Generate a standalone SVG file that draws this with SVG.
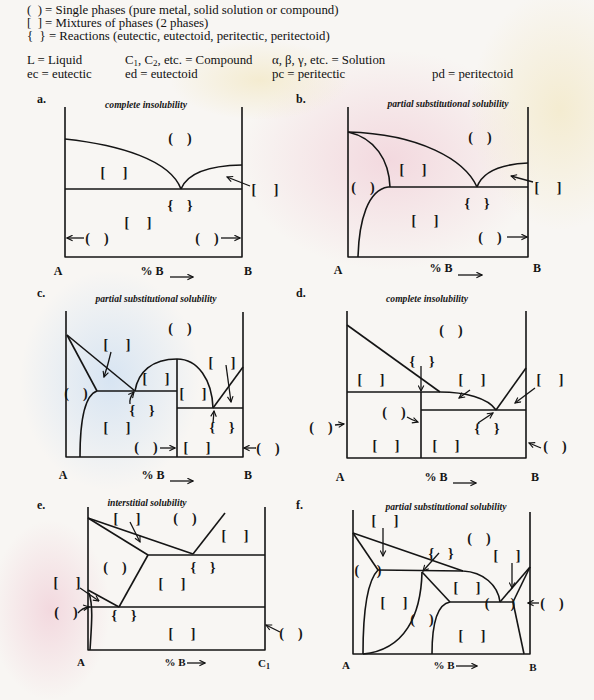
<svg xmlns="http://www.w3.org/2000/svg" width="594" height="700" viewBox="0 0 594 700" xml:space="preserve">
<defs>
<radialGradient id="gPink" cx="0.5" cy="0.5" r="0.5"><stop offset="0" stop-color="#f1cfd8" stop-opacity="0.75"/><stop offset="1" stop-color="#f1cfd8" stop-opacity="0"/></radialGradient>
<radialGradient id="gBlue" cx="0.5" cy="0.5" r="0.5"><stop offset="0" stop-color="#cfe0f2" stop-opacity="0.8"/><stop offset="1" stop-color="#cfe0f2" stop-opacity="0"/></radialGradient>
<radialGradient id="gYel" cx="0.5" cy="0.5" r="0.5"><stop offset="0" stop-color="#f3e9c8" stop-opacity="0.8"/><stop offset="1" stop-color="#f3e9c8" stop-opacity="0"/></radialGradient>
<marker id="ah" viewBox="0 0 10 10" refX="9" refY="5" markerWidth="7" markerHeight="7" markerUnits="userSpaceOnUse" orient="auto"><path d="M1,1 L9,5 L1,9" fill="none" stroke="#111" stroke-width="1.6"/></marker>
</defs>
<style>
.ln{fill:none;stroke:#151515;stroke-width:1.6;stroke-linejoin:round}
.ar{fill:none;stroke:#151515;stroke-width:1.3;marker-end:url(#ah)}
.hd{font-family:"Liberation Serif","Times New Roman",serif;font-size:12.8px;fill:#111;white-space:pre}
.lb{font-family:"Liberation Serif","Times New Roman",serif;font-size:14px;font-weight:bold;fill:#151515;text-anchor:middle;white-space:pre}
.ax{font-family:"Liberation Serif","Times New Roman",serif;font-size:12px;font-weight:bold;fill:#151515;text-anchor:middle;white-space:pre}
.pl{font-family:"Liberation Serif","Times New Roman",serif;font-size:12px;font-weight:bold;fill:#151515}
.tt{font-family:"Liberation Serif","Times New Roman",serif;font-size:9.6px;font-weight:bold;font-style:italic;fill:#151515;text-anchor:middle}
</style>
<rect width="594" height="700" fill="#f8f6f3"/>
<g id="background-tint">
<ellipse cx="390" cy="160" rx="150" ry="110" fill="url(#gPink)"/>
<ellipse cx="110" cy="380" rx="90" ry="110" fill="url(#gBlue)"/>
<ellipse cx="560" cy="110" rx="90" ry="120" fill="url(#gYel)"/>
<ellipse cx="50" cy="610" rx="60" ry="90" fill="url(#gPink)"/>
<ellipse cx="260" cy="80" rx="90" ry="40" fill="url(#gYel)"/>
</g>
<g id="legend">
<text class="hd" x="27" y="14">(  ) = Single phases (pure metal, solid solution or compound)</text>
<text class="hd" x="27" y="27">[  ] = Mixtures of phases (2 phases)</text>
<text class="hd" x="27" y="40">{  } = Reactions (eutectic, eutectoid, peritectic, peritectoid)</text>
<text class="hd" x="27" y="64">L = Liquid</text>
<text class="hd" x="125" y="64">C<tspan font-size="9" dy="2">1</tspan><tspan dy="-2">, C</tspan><tspan font-size="9" dy="2">2</tspan><tspan dy="-2">, etc. = Compound</tspan></text>
<text class="hd" x="272" y="64">α, β, γ, etc. = Solution</text>
<text class="hd" x="27" y="78">ec = eutectic</text>
<text class="hd" x="125" y="78">ed = eutectoid</text>
<text class="hd" x="272" y="78">pc = peritectic</text>
<text class="hd" x="432" y="78">pd = peritectoid</text>
</g>

<g id="panel-a">
<text class="pl" x="37" y="103">a.</text>
<text class="tt" x="146" y="108">complete insolubility</text>
<g class="boundaries">
<path class="ln" d="M65,107 V257 H242 V107"/>
<path class="ln" d="M65,139 C120,145 170,160 181,189"/>
<path class="ln" d="M181,189 Q190,166 242,165"/>
<path class="ln" d="M65,189 H242"/>
</g>
<g class="labels">
<text class="lb" x="180" y="143">(    )</text>
<text class="lb" x="114" y="177">[     ]</text>
<text class="lb" x="265" y="194">[     ]</text>
<text class="lb" x="180" y="210">{    }</text>
<text class="lb" x="138" y="227">[     ]</text>
<text class="lb" x="97" y="243">(    )</text>
<text class="lb" x="207" y="243">(    )</text>
<text class="ax" x="58" y="275">A</text>
<text class="ax" x="152" y="275">% B</text>
<text class="ax" x="248" y="275">B</text>
</g>
<g class="connectors">
<path class="ar" d="M250,186 L227,177"/>
<path class="ar" d="M84,238 L67,238"/>
<path class="ar" d="M221,238 L240,238"/>
<path class="ar" d="M170,277 L193,277"/>
</g>
</g>

<g id="panel-b">
<text class="pl" x="296" y="103">b.</text>
<text class="tt" x="448" y="107">partial substitutional solubility</text>
<g class="boundaries">
<path class="ln" d="M348,107 V257 H528 V107"/>
<path class="ln" d="M348,132 C420,134 465,160 477,187"/>
<path class="ln" d="M348,132 C375,138 389,160 390,187"/>
<path class="ln" d="M388,187 H528"/>
<path class="ln" d="M388,187 C368,190 359,220 358,257"/>
<path class="ln" d="M477,187 Q485,165 528,163"/>
</g>
<g class="labels">
<text class="lb" x="480" y="142">(    )</text>
<text class="lb" x="413" y="174">[     ]</text>
<text class="lb" x="363" y="192">(    )</text>
<text class="lb" x="548" y="192">[     ]</text>
<text class="lb" x="477" y="208">{    }</text>
<text class="lb" x="425" y="225">[     ]</text>
<text class="lb" x="490" y="242">(    )</text>
<text class="ax" x="338" y="274">A</text>
<text class="ax" x="441" y="272">% B</text>
<text class="ax" x="537" y="272">B</text>
</g>
<g class="connectors">
<path class="ar" d="M533,182 L511,176"/>
<path class="ar" d="M507,237 L527,237"/>
<path class="ar" d="M458,275 L482,275"/>
</g>
</g>

<g id="panel-c">
<text class="pl" x="37" y="297">c.</text>
<text class="tt" x="156" y="302">partial substitutional solubility</text>
<g class="boundaries">
<path class="ln" d="M66,311 V457 H243 V312"/>
<path class="ln" d="M67,335 L135,391"/>
<path class="ln" d="M67,335 L97,391"/>
<path class="ln" d="M97,391 H177"/>
<path class="ln" d="M97,391 C85,395 80,420 80,457"/>
<path class="ln" d="M135,391 C138,372 152,359 177,359 C198,359 212,380 213,408"/>
<path class="ln" d="M177,359 V457"/>
<path class="ln" d="M177,408 H243"/>
<path class="ln" d="M213,408 L243,367"/>
</g>
<g class="labels">
<text class="lb" x="180" y="333">(    )</text>
<text class="lb" x="117" y="349">[     ]</text>
<text class="lb" x="76" y="398">(    )</text>
<text class="lb" x="156" y="383">[     ]</text>
<text class="lb" x="222" y="367">[     ]</text>
<text class="lb" x="193" y="398">[     ]</text>
<text class="lb" x="142" y="415">{    }</text>
<text class="lb" x="117" y="432">[     ]</text>
<text class="lb" x="146" y="452">(    )</text>
<text class="lb" x="197" y="452">[     ]</text>
<text class="lb" x="222" y="432">{    }</text>
<text class="lb" x="268" y="453">(    )</text>
<text class="ax" x="63" y="479">A</text>
<text class="ax" x="153" y="479">% B</text>
<text class="ax" x="248" y="479">B</text>
</g>
<g class="connectors">
<path class="ar" d="M111,352 Q108,365 104,377"/>
<path class="ar" d="M226,365 L231,402"/>
<path class="ar" d="M130,404 Q129,398 134,392"/>
<path class="ar" d="M160,448 L175,448"/>
<path class="ar" d="M213,423 L214,411"/>
<path class="ar" d="M256,448 L244,448"/>
<path class="ar" d="M170,481 L193,481"/>
</g>
</g>

<g id="panel-d">
<text class="pl" x="296" y="297">d.</text>
<text class="tt" x="427" y="302">complete insolubility</text>
<g class="boundaries">
<path class="ln" d="M347,311 V458 H526 V311"/>
<path class="ln" d="M347,325 L440,392"/>
<path class="ln" d="M347,392 H440"/>
<path class="ln" d="M440,392 C465,392 488,398 496,410"/>
<path class="ln" d="M421,392 V458"/>
<path class="ln" d="M421,410 H526"/>
<path class="ln" d="M496,410 L526,368"/>
</g>
<g class="labels">
<text class="lb" x="451" y="335">(    )</text>
<text class="lb" x="422" y="366">{    }</text>
<text class="lb" x="371" y="384">[     ]</text>
<text class="lb" x="472" y="384">[     ]</text>
<text class="lb" x="550" y="384">[     ]</text>
<text class="lb" x="394" y="417">(    )</text>
<text class="lb" x="321" y="432">(    )</text>
<text class="lb" x="487" y="433">{    }</text>
<text class="lb" x="386" y="450">[     ]</text>
<text class="lb" x="446" y="450">[     ]</text>
<text class="lb" x="555" y="451">(    )</text>
<text class="ax" x="340" y="481">A</text>
<text class="ax" x="436" y="481">% B</text>
<text class="ax" x="535" y="481">B</text>
</g>
<g class="connectors">
<path class="ar" d="M421,366 L421,391"/>
<path class="ar" d="M470,390 L459,398"/>
<path class="ar" d="M535,388 L515,403"/>
<path class="ar" d="M407,417 Q412,420 418,422"/>
<path class="ar" d="M335,425 L344,424"/>
<path class="ar" d="M478,423 L493,413"/>
<path class="ar" d="M541,448 L529,443"/>
<path class="ar" d="M453,483 L476,483"/>
</g>
</g>

<g id="panel-e">
<text class="pl" x="37" y="509">e.</text>
<text class="tt" x="147" y="506">interstitial solubility</text>
<g class="boundaries">
<path class="ln" d="M88,507 V650 H265 V507"/>
<path class="ln" d="M88,518 L193,554"/>
<path class="ln" d="M88,518 L148,555"/>
<path class="ln" d="M148,555 H265"/>
<path class="ln" d="M193,554 L225,513"/>
<path class="ln" d="M148,555 L119,607"/>
<path class="ln" d="M88,590 L119,607"/>
<path class="ln" d="M89,593 C93,605 92,620 90,650"/>
<path class="ln" d="M88,607 H265"/>
</g>
<g class="labels">
<text class="lb" x="127" y="523">[     ]</text>
<text class="lb" x="185" y="523">(    )</text>
<text class="lb" x="235" y="540">[     ]</text>
<text class="lb" x="115" y="572">(    )</text>
<text class="lb" x="203" y="572">{    }</text>
<text class="lb" x="172" y="588">[     ]</text>
<text class="lb" x="67" y="587">[     ]</text>
<text class="lb" x="66" y="617">(    )</text>
<text class="lb" x="124" y="620">{    }</text>
<text class="lb" x="182" y="638">[     ]</text>
<text class="lb" x="291" y="638">(    )</text>
<text class="ax" x="81" y="666" style="font-size:11px">A</text>
<text class="ax" x="175" y="666" style="font-size:11px">% B</text>
<text class="ax" x="264" y="667" style="font-size:11px">C<tspan font-size="8" dy="2">1</tspan></text>
</g>
<g class="connectors">
<path class="ar" d="M130,522 L140,542"/>
<path class="ar" d="M80,588 L99,601"/>
<path class="ar" d="M78,613 Q82,608 89,607"/>
<path class="ar" d="M280,632 L266,625"/>
<path class="ar" d="M187,663 L205,663"/>
</g>
</g>

<g id="panel-f">
<text class="pl" x="296" y="509">f.</text>
<text class="tt" x="446" y="510">partial substitutional solubility</text>
<g class="boundaries">
<path class="ln" d="M353,510 V654 H530 V512"/>
<path class="ln" d="M353,533 L463,571 C483,572 498,585 500,602"/>
<path class="ln" d="M353,533 L378,570"/>
<path class="ln" d="M378,570 L463,571"/>
<path class="ln" d="M378,570 C368,580 363,610 363,654"/>
<path class="ln" d="M422,572 C421,615 405,650 363,654"/>
<path class="ln" d="M422,572 L450,602"/>
<path class="ln" d="M450,602 H513"/>
<path class="ln" d="M450,602 C438,604 432,620 432,654"/>
<path class="ln" d="M530,567 L500,602"/>
<path class="ln" d="M530,567 L513,602"/>
<path class="ln" d="M513,602 L524,654"/>
</g>
<g class="labels">
<text class="lb" x="385" y="525">[     ]</text>
<text class="lb" x="479" y="543">(    )</text>
<text class="lb" x="441" y="558">{    }</text>
<text class="lb" x="507" y="560">[     ]</text>
<text class="lb" x="368" y="575">(     )</text>
<text class="lb" x="467" y="592">[     ]</text>
<text class="lb" x="394" y="607">[     ]</text>
<text class="lb" x="422" y="624">(    )</text>
<text class="lb" x="500" y="608">(      )</text>
<text class="lb" x="552" y="608">(    )</text>
<text class="lb" x="472" y="640">[     ]</text>
<text class="ax" x="346" y="669" style="font-size:11px">A</text>
<text class="ax" x="444" y="669" style="font-size:11px">% B</text>
<text class="ax" x="533" y="671" style="font-size:11px">B</text>
</g>
<g class="connectors">
<path class="ar" d="M383,528 L383,556"/>
<path class="ar" d="M439,553 L423,571"/>
<path class="ar" d="M512,563 L512,588"/>
<path class="ar" d="M539,603 L528,603"/>
<path class="ar" d="M456,666 L477,666"/>
</g>
</g>
</svg>
